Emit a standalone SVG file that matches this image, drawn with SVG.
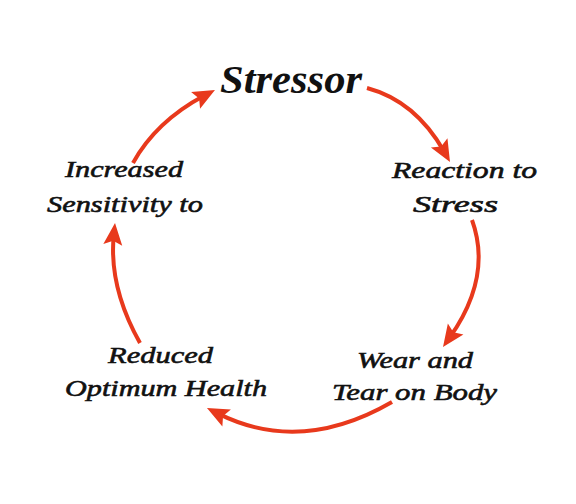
<svg xmlns="http://www.w3.org/2000/svg" width="576" height="504" viewBox="0 0 576 504">
  <defs>
    <marker id="head" markerUnits="userSpaceOnUse" markerWidth="26" markerHeight="22" viewBox="-12 -11 26 22" refX="0" refY="0" orient="auto">
      <path d="M12,0 L-10,-9.5 L-6,0 L-10,9.5 Z" fill="#e8391c"/>
    </marker>
  </defs>
  <style>
    .lbl { font-family: "Liberation Serif", "DejaVu Serif", serif; font-style: italic; font-size: 24px; fill: #111; stroke: #111; stroke-width: 0.6; text-anchor: middle; }
    .title { font-family: "Liberation Serif", "DejaVu Serif", serif; font-style: italic; font-weight: bold; font-size: 40px; fill: #111; text-anchor: middle; }
    .arc { fill: none; stroke: #e8391c; stroke-width: 4; marker-end: url(#head); }
  </style>
  <rect width="576" height="504" fill="#ffffff"/>
  <g id="connectors">
    <path class="arc" d="M367,88 Q415.5,101 444.1,151.6"/>
    <path class="arc" d="M472,220 Q492.5,276.5 449.9,337.2"/>
    <path class="arc" d="M392,402 Q300.5,455 217.7,413.4"/>
    <path class="arc" d="M140,343 Q108.5,287 113.8,234.9"/>
    <path class="arc" d="M133,163 Q156,121.5 204.4,95.6"/>
  </g>
  <g id="stressor">
    <text class="title" x="291" y="93" textLength="142" lengthAdjust="spacingAndGlyphs">Stressor</text>
  </g>
  <g id="reaction">
    <text class="lbl" x="464.5" y="178" textLength="145" lengthAdjust="spacingAndGlyphs">Reaction to</text>
    <text class="lbl" x="455.5" y="212" textLength="85" lengthAdjust="spacingAndGlyphs">Stress</text>
  </g>
  <g id="wear">
    <text class="lbl" x="415" y="368" textLength="116" lengthAdjust="spacingAndGlyphs">Wear and</text>
    <text class="lbl" x="414.5" y="400" textLength="165" lengthAdjust="spacingAndGlyphs">Tear on Body</text>
  </g>
  <g id="reduced">
    <text class="lbl" x="160.5" y="363" textLength="105" lengthAdjust="spacingAndGlyphs">Reduced</text>
    <text class="lbl" x="166" y="396" textLength="202" lengthAdjust="spacingAndGlyphs">Optimum Health</text>
  </g>
  <g id="increased">
    <text class="lbl" x="124" y="177" textLength="118" lengthAdjust="spacingAndGlyphs">Increased</text>
    <text class="lbl" x="125" y="212" textLength="156" lengthAdjust="spacingAndGlyphs">Sensitivity to</text>
  </g>
</svg>
